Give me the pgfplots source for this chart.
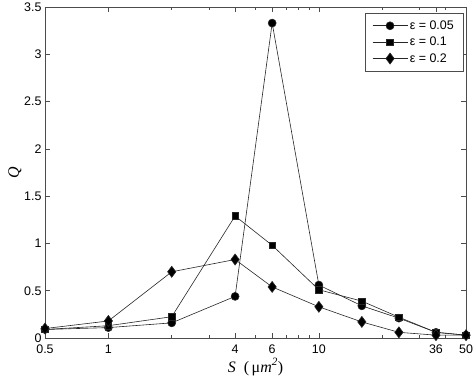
\documentclass[border=0pt]{standalone}
\usepackage{fontspec}
\setmainfont{Liberation Sans}
\newfontfamily\serif{Liberation Serif}
\usepackage{pgfplots}
\pgfplotsset{compat=1.18}
\begin{document}
\begin{tikzpicture}
\begin{axis}[
  scale only axis,
  width=421bp, height=331bp,
  xmode=log,
  xmin=0.5, xmax=50,
  ymin=0, ymax=3.5,
  xtick={0.5,1,4,6,10,36,50},
  xticklabels={0.5,1,4,6,10,36,50},
  minor xtick={2,3,5,7,8,9,20,30,40},
  ytick={0,0.5,1,1.5,2,2.5,3,3.5},
  yticklabels={0,0.5,1,1.5,2,2.5,3,3.5},
  tick align=inside,
  major tick length=5bp,
  minor tick length=3bp,
  tick style={black!70, line width=0.5pt},
  axis line style={black!70, line width=0.6pt},
  ticklabel style={font=\fontsize{12.5}{14}\selectfont},
  xticklabel style={yshift=-3bp},
  xlabel={{\serif\fontsize{16}{18}\selectfont\itshape S\ \ \upshape(\,μ\itshape m\textsuperscript{2}\upshape)}},
  ylabel={{\serif\fontsize{16}{18}\selectfont\itshape Q}},
  xlabel style={at={(rel axis cs:0.5,0)}, anchor=center, yshift=-29bp},
  ylabel style={at={(rel axis cs:0,0.5)}, anchor=center, yshift=30bp},
  legend style={at={(rel axis cs:0.993,0.982)}, anchor=north east,
    font=\fontsize{12.5}{14}\selectfont, draw=black!70, line width=0.5pt,
    inner xsep=7bp, inner ysep=5.5bp, row sep=2.2bp},
  legend cell align=left,
  legend image code/.code={\draw[mark repeat=2,mark phase=2] plot coordinates {(0bp,0bp)(17.5bp,0bp)(35bp,0bp)};},
  every axis plot/.append style={black!85, line width=0.6pt, mark options={solid, fill=black}},
  clip=false,
]
\addplot[mark=*, mark size=4bp] coordinates {
(0.5,0.09) (1,0.11) (2,0.16) (4,0.44) (6,3.33) (10,0.56) (16,0.34) (24,0.21) (36,0.06) (50,0.03)};
\addlegendentry{ε = 0.05}
\addplot[mark=square*, mark size=3.3bp] coordinates {
(0.5,0.09) (1,0.13) (2,0.225) (4,1.29) (6,0.98) (10,0.51) (16,0.39) (24,0.22) (36,0.06) (50,0.03)};
\addlegendentry{ε = 0.1}
\addplot[mark=diamond*, mark size=5.5bp] coordinates {
(0.5,0.10) (1,0.18) (2,0.70) (4,0.83) (6,0.54) (10,0.33) (16,0.17) (24,0.06) (36,0.03) (50,0.03)};
\addlegendentry{ε = 0.2}
\coordinate (bl) at (rel axis cs:0,0);
\coordinate (tr) at (rel axis cs:1,1);
\end{axis}
\pgfresetboundingbox
\path[use as bounding box] (bl) ++(-45bp,-45bp) rectangle ([shift={(8bp,7bp)}]tr);
\end{tikzpicture}
\end{document}
